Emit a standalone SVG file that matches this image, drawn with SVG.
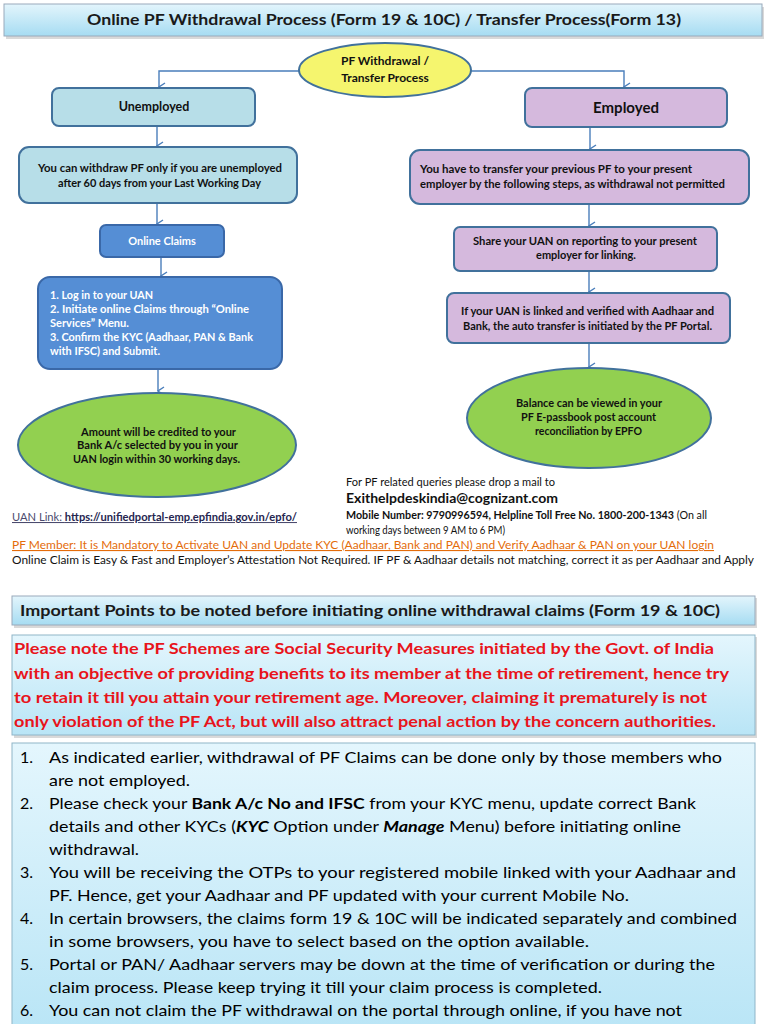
<svg xmlns="http://www.w3.org/2000/svg" width="768" height="1024" viewBox="0 0 768 1024">
<defs>
<linearGradient id="gHead" x1="0" y1="0" x2="0" y2="1"><stop offset="0" stop-color="#e3f5fc"/><stop offset="1" stop-color="#a6dcf2"/></linearGradient>
<linearGradient id="gPanel" x1="0" y1="0" x2="0" y2="1"><stop offset="0" stop-color="#e4f6fd"/><stop offset="1" stop-color="#b9e5f6"/></linearGradient>
<marker id="arr" markerWidth="10" markerHeight="10" refX="5" refY="9" orient="auto" markerUnits="userSpaceOnUse" viewBox="0 0 10 10"><path d="M1,3 L5,9 L9,3" fill="none" stroke="#4a7ebb" stroke-width="1.4"/></marker>
</defs>
<style>
text{font-family:Lato,"Open Sans","Liberation Sans",sans-serif;}
.b{font-weight:bold;}
.t11{font-size:11px;}
.t12{font-size:12px;}
.conn{fill:none;stroke:#4a7ebb;stroke-width:1.4;}
.blue{fill:#b7dee8;stroke:#41719c;stroke-width:2;}
.lav{fill:#d5b9dd;stroke:#41719c;stroke-width:2;}
.mid{fill:#558ed5;stroke:#3a68a8;stroke-width:2;}
.green{fill:#92d050;stroke:#41719c;stroke-width:2;}
.wt{fill:#ffffff;}
.head{fill:url(#gHead);stroke:#9ab;stroke-width:1;}
.panel{fill:url(#gPanel);stroke:#8fb5c8;stroke-width:1;}
.shadow{fill:#000;opacity:0.15;}
.list{font-size:16px;fill:#000;}
.red{font-size:16px;font-weight:bold;fill:#e8141b;}
</style>
<rect width="768" height="1024" fill="#ffffff"/>

<g id="title">
<rect class="shadow" x="6" y="7" width="758" height="32"/>
<rect class="head" x="4" y="4" width="758" height="32"/>
<text x="87" y="25" font-size="16" class="b" fill="#1a1a1a" textLength="594" lengthAdjust="spacingAndGlyphs">Online PF Withdrawal Process (Form 19 &amp; 10C) / Transfer Process(Form 13)</text>
</g>

<g id="connectors">
<path class="conn" d="M300,71 H159 V87" marker-end="url(#arr)"/>
<path class="conn" d="M470,71 H624 V87" marker-end="url(#arr)"/>
<path class="conn" d="M157,126 V146" marker-end="url(#arr)"/>
<path class="conn" d="M157,204 V224" marker-end="url(#arr)"/>
<path class="conn" d="M161,258 V276" marker-end="url(#arr)"/>
<path class="conn" d="M158,369 V391" marker-end="url(#arr)"/>
<path class="conn" d="M590,128 V149" marker-end="url(#arr)"/>
<path class="conn" d="M589,205 V226" marker-end="url(#arr)"/>
<path class="conn" d="M589,272 V292" marker-end="url(#arr)"/>
<path class="conn" d="M589,344 V367" marker-end="url(#arr)"/>
</g>

<g id="start">
<ellipse cx="385" cy="70" rx="86" ry="27" fill="#f5f56e" stroke="#41719c" stroke-width="2"/>
<text x="385" y="65" text-anchor="middle" class="b t12" fill="#111">PF Withdrawal /</text>
<text x="385" y="82" text-anchor="middle" class="b t12" fill="#111">Transfer Process</text>
</g>

<g id="unemployed">
<rect class="blue" x="52" y="88" width="203" height="38" rx="7"/>
<text x="154" y="111" text-anchor="middle" class="b" font-size="12.5" fill="#111">Unemployed</text>
</g>

<g id="employed">
<rect class="lav" x="525" y="88" width="202" height="39" rx="7"/>
<text x="626" y="113" text-anchor="middle" class="b" font-size="15" fill="#111">Employed</text>
</g>

<g id="withdraw-cond">
<rect class="blue" x="19" y="147" width="278" height="56" rx="10"/>
<text x="38" y="172" class="b" font-size="11" fill="#111" textLength="244" lengthAdjust="spacingAndGlyphs">You can withdraw  PF  only if you are unemployed</text>
<text x="58" y="187" class="b" font-size="11" fill="#111" textLength="203" lengthAdjust="spacingAndGlyphs">after 60 days from your Last Working Day</text>
</g>

<g id="online-claims">
<rect class="mid" x="100" y="225" width="124" height="32" rx="6"/>
<text x="162" y="245" text-anchor="middle" class="b" font-size="11" fill="#ffffff">Online Claims</text>
</g>

<g id="steps">
<rect class="mid" x="38" y="277" width="244" height="92" rx="12"/>
<text x="50" y="299" class="b wt" font-size="11.5" textLength="103" lengthAdjust="spacingAndGlyphs">1. Log in to your UAN</text>
<text x="50" y="313" class="b wt" font-size="11.5" textLength="199" lengthAdjust="spacingAndGlyphs">2. Initiate online Claims  through “Online</text>
<text x="50" y="327" class="b wt" font-size="11.5" textLength="79" lengthAdjust="spacingAndGlyphs">Services” Menu.</text>
<text x="50" y="341" class="b wt" font-size="11.5" textLength="203" lengthAdjust="spacingAndGlyphs">3. Confirm the KYC (Aadhaar, PAN &amp; Bank</text>
<text x="50" y="355" class="b wt" font-size="11.5" textLength="110" lengthAdjust="spacingAndGlyphs">with IFSC) and Submit.</text>
</g>

<g id="credited">
<ellipse class="green" cx="157" cy="445" rx="139" ry="52"/>
<text x="81" y="436" class="b" font-size="11" fill="#111" textLength="155" lengthAdjust="spacingAndGlyphs">Amount will be credited to your</text>
<text x="77" y="449" class="b" font-size="11" fill="#111" textLength="161" lengthAdjust="spacingAndGlyphs">Bank A/c  selected by you in your</text>
<text x="73" y="463" class="b" font-size="11" fill="#111" textLength="167" lengthAdjust="spacingAndGlyphs">UAN login within 30 working days.</text>
</g>

<g id="transfer-cond">
<rect class="lav" x="410" y="150" width="339" height="54" rx="10"/>
<text x="420" y="173" class="b" font-size="11" fill="#111" textLength="272" lengthAdjust="spacingAndGlyphs">You have to transfer  your  previous PF  to  your present</text>
<text x="420" y="188" class="b" font-size="11" fill="#111" textLength="305" lengthAdjust="spacingAndGlyphs">employer by the following steps, as  withdrawal not permitted</text>
</g>

<g id="share-uan">
<rect class="lav" x="454" y="227" width="263" height="44" rx="6"/>
<text x="473" y="245" class="b" font-size="11" fill="#111" textLength="224" lengthAdjust="spacingAndGlyphs">Share your UAN on  reporting to your  present</text>
<text x="586" y="259" text-anchor="middle" class="b" font-size="11" fill="#111">employer for linking.</text>
</g>

<g id="auto-transfer">
<rect class="lav" x="447" y="293" width="283" height="50" rx="7"/>
<text x="461" y="315" class="b" font-size="11" fill="#111" textLength="253" lengthAdjust="spacingAndGlyphs">If your  UAN is linked and verified with Aadhaar and</text>
<text x="463" y="330" class="b" font-size="11" fill="#111" textLength="249" lengthAdjust="spacingAndGlyphs">Bank, the auto transfer is initiated by the PF Portal.</text>
</g>

<g id="balance">
<ellipse class="green" cx="589" cy="418" rx="122" ry="50"/>
<text x="516" y="407" class="b" font-size="11" fill="#111" textLength="146" lengthAdjust="spacingAndGlyphs">Balance can be viewed in your</text>
<text x="521" y="421" class="b" font-size="11" fill="#111" textLength="135" lengthAdjust="spacingAndGlyphs">PF E-passbook post account</text>
<text x="535" y="435" class="b" font-size="11" fill="#111" textLength="107" lengthAdjust="spacingAndGlyphs">reconciliation by EPFO</text>
</g>

<g id="contact">
<text x="346" y="486" font-size="10.5" fill="#111" textLength="209" lengthAdjust="spacingAndGlyphs">For PF related queries please drop a mail to</text>
<text x="346" y="503" font-size="13.5" class="b" fill="#111" textLength="212" lengthAdjust="spacingAndGlyphs">Exithelpdeskindia@cognizant.com</text>
<text x="346" y="519" font-size="10.5" fill="#111" textLength="361" lengthAdjust="spacingAndGlyphs"><tspan class="b">Mobile Number: 9790996594, Helpline Toll Free No. 1800-200-1343</tspan> (On all</text>
<text x="346" y="534" font-size="10.5" fill="#111" textLength="159" lengthAdjust="spacingAndGlyphs">working days between 9 AM to 6 PM)</text>
<text x="12" y="521" font-size="10.5" fill="#4b4b6e" text-decoration="underline" textLength="285" lengthAdjust="spacingAndGlyphs">UAN Link: <tspan class="b" fill="#262650">https://unifiedportal-emp.epfindia.gov.in/epfo/</tspan></text>
<text x="12" y="549" font-size="11" fill="#e46c0a" text-decoration="underline" textLength="702" lengthAdjust="spacingAndGlyphs">PF Member: It is Mandatory to Activate UAN and Update KYC (Aadhaar, Bank and PAN) and Verify Aadhaar &amp; PAN on your UAN login</text>
<text x="12" y="564" font-size="11" fill="#111" textLength="742" lengthAdjust="spacingAndGlyphs">Online Claim is Easy &amp; Fast and Employer’s Attestation Not Required. IF PF &amp; Aadhaar details not matching, correct it as  per Aadhaar and Apply</text>
</g>

<g id="important-header">
<rect class="shadow" x="14" y="598" width="743" height="30"/>
<rect class="head" x="12" y="596" width="743" height="29"/>
<text x="20" y="616" font-size="16" class="b" fill="#1a1a1a" textLength="700" lengthAdjust="spacingAndGlyphs">Important Points to be noted before initiating online withdrawal claims (Form 19 &amp; 10C)</text>
</g>

<g id="warning">
<rect class="shadow" x="14" y="637" width="743" height="101"/>
<rect class="panel" x="12" y="635" width="743" height="100"/>
<text x="14" y="654" class="red" textLength="700" lengthAdjust="spacingAndGlyphs">Please note the PF Schemes are Social Security Measures initiated by the  Govt. of India</text>
<text x="14" y="679" class="red" textLength="715" lengthAdjust="spacingAndGlyphs">with an objective of providing benefits to its member at the time of retirement, hence try</text>
<text x="14" y="703" class="red" textLength="693" lengthAdjust="spacingAndGlyphs">to retain it till you attain your retirement age. Moreover, claiming it prematurely  is not</text>
<text x="14" y="727" class="red" textLength="702" lengthAdjust="spacingAndGlyphs">only violation of the PF Act, but will also attract penal action by the concern authorities.</text>
</g>

<g id="points">
<rect class="panel" x="12" y="743" width="743" height="290"/>
<text x="20" y="763" class="list">1.</text>
<text x="49" y="763" class="list" textLength="673" lengthAdjust="spacingAndGlyphs">As indicated earlier, withdrawal of PF Claims can be done only by those members  who</text>
<text x="49" y="786" class="list" textLength="141" lengthAdjust="spacingAndGlyphs">are not employed.</text>
<text x="20" y="809" class="list">2.</text>
<text x="49" y="809" class="list" textLength="647" lengthAdjust="spacingAndGlyphs">Please check your <tspan class="b">Bank A/c No and IFSC</tspan> from your KYC menu, update correct Bank</text>
<text x="49" y="832" class="list" textLength="632" lengthAdjust="spacingAndGlyphs">details and other KYCs (<tspan class="b" font-style="italic">KYC</tspan> Option under <tspan class="b" font-style="italic">Manage</tspan> Menu) before initiating online</text>
<text x="49" y="855" class="list" textLength="90" lengthAdjust="spacingAndGlyphs">withdrawal.</text>
<text x="20" y="878" class="list">3.</text>
<text x="49" y="878" class="list" textLength="687" lengthAdjust="spacingAndGlyphs">You will be receiving the OTPs to your registered mobile linked  with your Aadhaar and</text>
<text x="49" y="901" class="list" textLength="580" lengthAdjust="spacingAndGlyphs">PF. Hence, get your Aadhaar and PF updated with your current Mobile No.</text>
<text x="20" y="924" class="list">4.</text>
<text x="49" y="924" class="list" textLength="688" lengthAdjust="spacingAndGlyphs">In certain browsers, the claims form 19 &amp; 10C will be indicated separately and combined</text>
<text x="49" y="947" class="list" textLength="540" lengthAdjust="spacingAndGlyphs">in some browsers, you have to select based on the option available.</text>
<text x="20" y="970" class="list">5.</text>
<text x="49" y="970" class="list" textLength="666" lengthAdjust="spacingAndGlyphs">Portal  or PAN/ Aadhaar servers may be down at the time of verification or during the</text>
<text x="49" y="993" class="list" textLength="553" lengthAdjust="spacingAndGlyphs">claim process. Please keep trying it till your claim process is completed.</text>
<text x="20" y="1016" class="list">6.</text>
<text x="49" y="1016" class="list" textLength="633" lengthAdjust="spacingAndGlyphs">You can not claim the PF withdrawal on the portal through online, if you have not</text>
</g>
</svg>
